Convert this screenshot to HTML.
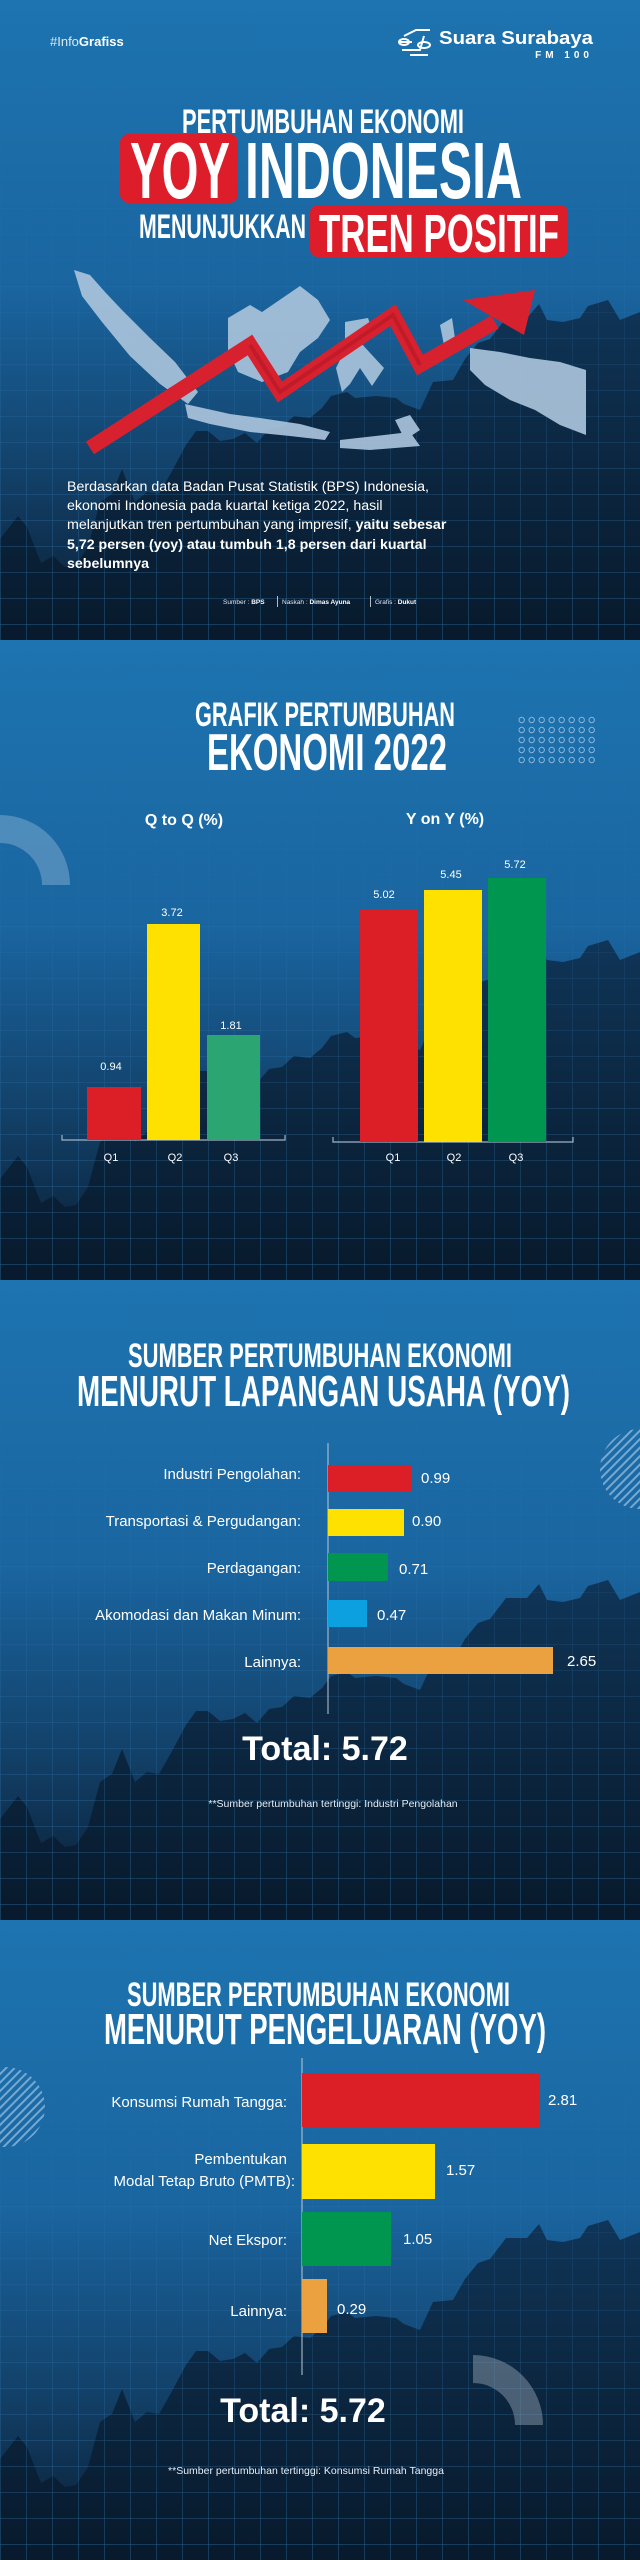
<!DOCTYPE html>
<html><head><meta charset="utf-8">
<style>
html,body{margin:0;padding:0;background:#0b1f33;}
body{width:640px;height:2560px;overflow:hidden;}
svg{display:block;}
text{font-family:"Liberation Sans",sans-serif;}
.c{font-family:"Liberation Sans Narrow","Liberation Sans",sans-serif;font-weight:bold;fill:#fff;}
</style></head><body>
<svg width="0" height="0" style="position:absolute">
<defs>
<linearGradient id="bgg" x1="0" y1="0" x2="0" y2="1">
<stop offset="0" stop-color="#1d74b0"/><stop offset="0.45" stop-color="#1a65a0"/><stop offset="0.75" stop-color="#123f66"/><stop offset="1" stop-color="#0a1c30"/>
</linearGradient>
<linearGradient id="gm" x1="0" y1="0" x2="0" y2="1">
<stop offset="0" stop-color="#fff" stop-opacity="0"/><stop offset="0.35" stop-color="#fff" stop-opacity="0.15"/><stop offset="1" stop-color="#fff" stop-opacity="0.9"/>
</linearGradient>
<mask id="gmask"><rect width="640" height="640" fill="url(#gm)"/></mask>
<pattern id="grid" width="26" height="26" patternUnits="userSpaceOnUse">
<path d="M0 0H26M0 0V26" stroke="#3a86c4" stroke-width="1" fill="none" opacity="0.7"/>
</pattern>
<linearGradient id="mg" x1="0" y1="0" x2="0" y2="1">
<stop offset="0" stop-color="#0d2a47" stop-opacity="0.8"/><stop offset="1" stop-color="#081a2c" stop-opacity="0.95"/>
</linearGradient>
<g id="bg">
<rect width="640" height="640" fill="url(#bgg)"/>
<path fill="url(#mg)" d="M0 539L18 516L27 527L41 563L53 556L65 567L76 565L88 547L100 502L112 494L122 469L135 502L147 492L159 494L171 473L186 445L196 431L208 431L220 441L233 439L245 433L257 443L269 429L282 427L294 416L310 418L322 408L331 396L347 392L355 398L376 396L396 398L404 404L420 410L433 382L453 380L465 359L478 343L490 339L506 318L527 318L539 304L547 320L563 322L580 318L588 306L608 300L620 320L640 312L640 640L0 640Z"/>
<rect width="640" height="640" fill="url(#grid)" mask="url(#gmask)"/>
</g>
<pattern id="hatch" width="6" height="6" patternUnits="userSpaceOnUse" patternTransform="rotate(45)">
<rect width="2" height="6" fill="#9cc3e4" opacity="0.7"/>
</pattern>
</defs>
</svg>

<!-- PANEL 1 -->
<svg width="640" height="640" viewBox="0 0 640 640">
<use href="#bg"/>
<text x="50" y="46" font-size="13" fill="#dfe9f3">#Info<tspan font-weight="bold" fill="#fff">Grafiss</tspan></text>
<g fill="none" stroke="#fff" stroke-width="2">
<path d="M400 42h12M404 36l12-6h14M402 50h18l4 -14M410 55h18"/><ellipse cx="404" cy="42" rx="5" ry="3"/><ellipse cx="424" cy="45" rx="6" ry="3"/>
</g>
<text x="593" y="44" font-size="18" font-weight="bold" fill="#fff" text-anchor="end" textLength="154" lengthAdjust="spacingAndGlyphs">Suara Surabaya</text>
<text x="593" y="58" font-size="10" font-weight="bold" fill="#fff" text-anchor="end" letter-spacing="4">FM 100</text>
<text class="c" x="182" y="133" font-size="34" textLength="282" lengthAdjust="spacingAndGlyphs">PERTUMBUHAN EKONOMI</text>
<rect x="120" y="134" width="118" height="69" rx="9" fill="#dd1d2a"/>
<text class="c" x="130" y="198" font-size="80" textLength="100" lengthAdjust="spacingAndGlyphs">YOY</text>
<text class="c" x="245" y="198" font-size="80" textLength="277" lengthAdjust="spacingAndGlyphs">INDONESIA</text>
<text class="c" x="139" y="238" font-size="34" textLength="167" lengthAdjust="spacingAndGlyphs">MENUNJUKKAN</text>
<rect x="310" y="205" width="258" height="52" rx="8" fill="#dd1d2a"/>
<text class="c" x="319" y="252" font-size="54" textLength="240" lengthAdjust="spacingAndGlyphs">TREN POSITIF</text>
<g fill="#a9c3db" opacity="0.92">
<path d="M74 270L90 275L105 292L122 310L150 338L175 362L198 392L188 404L160 384L130 356L102 322L82 296Z"/>
<path d="M228 318L250 305L262 312L300 286L318 300L330 320L318 338L300 352L288 372L262 382L238 372L228 350Z"/>
<path d="M345 322L368 318L372 330L360 342L384 368L372 386L360 368L350 384L342 392L336 368L345 350Z"/>
<path d="M185 404L230 414L260 418L300 424L330 432L325 440L290 436L250 432L210 424L188 418Z"/>
<path d="M340 440L410 432L420 446L370 450L340 448Z"/>
<path d="M470 348L500 352L530 358L560 362L586 370L586 435L560 425L535 410L510 400L485 385L470 370Z"/>
<path d="M395 420L410 415L420 430L405 440Z"/>
<path d="M440 325L452 318L456 345L445 350Z"/>
</g>
<g fill="#d8212f">
<polyline points="90,448 250,345 280,392 393,315 420,365 495,322" fill="none" stroke="#d8212f" stroke-width="15" stroke-linejoin="miter"/>
<polygon points="463,300 535,290 524,335"/>
</g>
<polyline points="250,345 280,392 393,315 420,365" fill="none" stroke="#9e1420" stroke-width="4" opacity="0.4"/>
<g font-size="14.2" fill="#fff">
<text x="67" y="491">Berdasarkan data Badan Pusat Statistik (BPS) Indonesia,</text>
<text x="67" y="510">ekonomi Indonesia pada kuartal ketiga 2022, hasil</text>
<text x="67" y="529">melanjutkan tren pertumbuhan yang impresif, <tspan font-weight="bold">yaitu sebesar</tspan></text>
<text x="67" y="549" font-weight="bold">5,72 persen (yoy) atau tumbuh 1,8 persen dari kuartal</text>
<text x="67" y="568" font-weight="bold">sebelumnya</text>
</g>
<g font-size="6.5" fill="#dfe9f3">
<text x="223" y="604">Sumber : <tspan font-weight="bold" fill="#fff">BPS</tspan></text>
<text x="282" y="604">Naskah : <tspan font-weight="bold" fill="#fff">Dimas Ayuna</tspan></text>
<text x="375" y="604">Grafis : <tspan font-weight="bold" fill="#fff">Dukut</tspan></text>
<rect x="277" y="596" width="0.7" height="11" fill="#fff"/><rect x="370" y="596" width="0.7" height="11" fill="#fff"/>
</g>
</svg>

<!-- PANEL 2 -->
<svg width="640" height="640" viewBox="0 0 640 640">
<use href="#bg"/>
<text class="c" x="195" y="86" font-size="34" textLength="260" lengthAdjust="spacingAndGlyphs">GRAFIK PERTUMBUHAN</text>
<text class="c" x="207" y="130" font-size="52" textLength="240" lengthAdjust="spacingAndGlyphs">EKONOMI 2022</text>
<g fill="none" stroke="#a7c6e2" stroke-width="1" opacity="0.8">
<path id="dr" d="M519 80a2.7 2.7 0 1 0 5.4 0a2.7 2.7 0 1 0 -5.4 0M529 80a2.7 2.7 0 1 0 5.4 0a2.7 2.7 0 1 0 -5.4 0M539 80a2.7 2.7 0 1 0 5.4 0a2.7 2.7 0 1 0 -5.4 0M549 80a2.7 2.7 0 1 0 5.4 0a2.7 2.7 0 1 0 -5.4 0M559 80a2.7 2.7 0 1 0 5.4 0a2.7 2.7 0 1 0 -5.4 0M569 80a2.7 2.7 0 1 0 5.4 0a2.7 2.7 0 1 0 -5.4 0M579 80a2.7 2.7 0 1 0 5.4 0a2.7 2.7 0 1 0 -5.4 0M589 80a2.7 2.7 0 1 0 5.4 0a2.7 2.7 0 1 0 -5.4 0"/>
<use href="#dr" y="10"/><use href="#dr" y="20"/><use href="#dr" y="30"/><use href="#dr" y="40"/>
</g>
<path d="M0 175A70 70 0 0 1 70 245H42A42 42 0 0 0 0 203Z" fill="#8fb6d8" opacity="0.45"/>
<text x="184" y="185" font-size="16" font-weight="bold" fill="#fff" text-anchor="middle">Q to Q (%)</text>
<text x="445" y="184" font-size="16" font-weight="bold" fill="#fff" text-anchor="middle">Y on Y (%)</text>
<g fill="none" stroke="#9fb3c6" stroke-width="1.2"><path d="M62 495V500H285V495"/><path d="M333 497V502H573V497"/></g>
<rect x="87" y="447" width="54" height="53" fill="#dc1f26"/>
<rect x="147" y="284" width="53" height="216" fill="#ffe100"/>
<rect x="207" y="395" width="53" height="105" fill="#2ba673"/>
<rect x="360" y="270" width="58" height="232" fill="#dc1f26"/>
<rect x="424" y="250" width="58" height="252" fill="#ffe100"/>
<rect x="488" y="238" width="58" height="264" fill="#00964f"/>
<g font-size="11" fill="#fff" text-anchor="middle">
<text x="111" y="430">0.94</text><text x="172" y="276">3.72</text><text x="231" y="389">1.81</text>
<text x="384" y="258">5.02</text><text x="451" y="238">5.45</text><text x="515" y="228">5.72</text>
<text x="111" y="521">Q1</text><text x="175" y="521">Q2</text><text x="231" y="521">Q3</text>
<text x="393" y="521">Q1</text><text x="454" y="521">Q2</text><text x="516" y="521">Q3</text>
</g>
</svg>

<!-- PANEL 3 -->
<svg width="640" height="640" viewBox="0 0 640 640">
<use href="#bg"/>
<circle cx="640" cy="189" r="40" fill="url(#hatch)"/>
<text class="c" x="128" y="87" font-size="34" textLength="384" lengthAdjust="spacingAndGlyphs">SUMBER PERTUMBUHAN EKONOMI</text>
<text class="c" x="77" y="126" font-size="44" textLength="493" lengthAdjust="spacingAndGlyphs">MENURUT LAPANGAN USAHA (YOY)</text>
<rect x="327.5" y="163" width="1" height="271" fill="#b9c9d8"/>
<rect x="328" y="185" width="84" height="27" fill="#dc1f26"/>
<rect x="328" y="229" width="76" height="27" fill="#ffe100"/>
<rect x="328" y="273" width="60" height="28" fill="#00964f"/>
<rect x="328" y="320" width="39" height="27" fill="#0da0e0"/>
<rect x="328" y="367" width="225" height="27" fill="#eba13f"/>
<g font-size="15" fill="#fff" text-anchor="end">
<text x="301" y="199">Industri Pengolahan:</text>
<text x="301" y="246">Transportasi &amp; Pergudangan:</text>
<text x="301" y="293">Perdagangan:</text>
<text x="301" y="340">Akomodasi dan Makan Minum:</text>
<text x="301" y="387">Lainnya:</text>
</g>
<g font-size="15" fill="#fff">
<text x="421" y="203">0.99</text><text x="412" y="246">0.90</text><text x="399" y="294">0.71</text><text x="377" y="340">0.47</text><text x="567" y="386">2.65</text>
</g>
<text x="325" y="480" font-size="34" font-weight="bold" fill="#fff" text-anchor="middle">Total: 5.72</text>
<text x="333" y="527" font-size="10.5" fill="#e6eef6" text-anchor="middle">**Sumber pertumbuhan tertinggi: Industri Pengolahan</text>
</svg>

<!-- PANEL 4 -->
<svg width="640" height="640" viewBox="0 0 640 640">
<use href="#bg"/>
<circle cx="5" cy="187" r="40" fill="url(#hatch)"/>
<path d="M473 435A70 70 0 0 1 543 505H515A42 42 0 0 0 473 463Z" fill="#9aa9b8" opacity="0.45"/>
<text class="c" x="127" y="86" font-size="34" textLength="383" lengthAdjust="spacingAndGlyphs">SUMBER PERTUMBUHAN EKONOMI</text>
<text class="c" x="104" y="124" font-size="44" textLength="442" lengthAdjust="spacingAndGlyphs">MENURUT PENGELUARAN (YOY)</text>
<rect x="301.5" y="138" width="1" height="317" fill="#b9c9d8"/>
<rect x="302" y="153" width="238" height="54" fill="#dc1f26"/>
<rect x="302" y="224" width="133" height="55" fill="#ffe100"/>
<rect x="302" y="292" width="89" height="54" fill="#00964f"/>
<rect x="302" y="359" width="25" height="54" fill="#eba13f"/>
<g font-size="15" fill="#fff" text-anchor="end">
<text x="287" y="187">Konsumsi Rumah Tangga:</text>
<text x="287" y="244">Pembentukan</text>
<text x="295" y="266">Modal Tetap Bruto (PMTB):</text>
<text x="287" y="325">Net Ekspor:</text>
<text x="287" y="396">Lainnya:</text>
</g>
<g font-size="15" fill="#fff">
<text x="548" y="185">2.81</text><text x="446" y="255">1.57</text><text x="403" y="324">1.05</text><text x="337" y="394">0.29</text>
</g>
<text x="303" y="502" font-size="34" font-weight="bold" fill="#fff" text-anchor="middle">Total: 5.72</text>
<text x="306" y="554" font-size="10.5" fill="#e6eef6" text-anchor="middle">**Sumber pertumbuhan tertinggi: Konsumsi Rumah Tangga</text>
</svg>
</body></html>
